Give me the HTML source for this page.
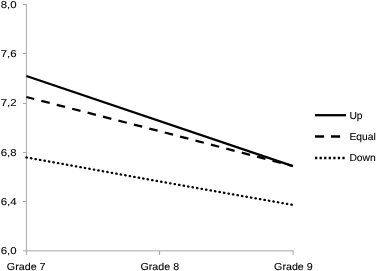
<!DOCTYPE html>
<html><head><meta charset="utf-8"><style>
html,body{margin:0;padding:0;background:#fff;width:378px;height:271px;overflow:hidden}
svg{display:block}
text{text-rendering:geometricPrecision;font-family:"Liberation Sans",sans-serif;fill:#000;stroke:#000;stroke-width:0.1px}
</style></head><body>
<svg width="378" height="271" viewBox="0 0 378 271">
<g stroke="#a8a8a8" stroke-width="1" fill="none">
<path d="M26.4 4V255"/>
<path d="M26 250.85H293.6"/>
<path d="M23 4.5H26M23 53.5H26M23 103.5H26M23 152.5H26M23 201.5H26M23 250.85H26"/>
<path d="M159.6 251V255M293.1 251V255"/>
</g>
<g fill="none" stroke="#000" stroke-width="2.28">
<path d="M26.4 75.97L292.9 166.1"/>
<path d="M26.4 97.0L159.65 131.2L292.9 166.0" stroke-dasharray="8.6 7.32" stroke-dashoffset="0.5"/>
<path d="M26.4 157.4L159.65 181.45L292.9 204.9" stroke-dasharray="0.5 4.06" stroke-dashoffset="-0.05" stroke-linecap="round"/>
<path d="M315 115.2H346"/>
<path d="M315 136.5H346" stroke-dasharray="9.12 6.84"/>
<path d="M315 158.0H346" stroke-dasharray="2.28 2.28"/>
</g>
<text transform="translate(16.6 7.9) scale(1.14 1)" text-anchor="end" font-size="10">8,0</text>
<text transform="translate(16.6 57.1) scale(1.14 1)" text-anchor="end" font-size="10">7,6</text>
<text transform="translate(16.6 106.3) scale(1.14 1)" text-anchor="end" font-size="10">7,2</text>
<text transform="translate(16.6 155.5) scale(1.14 1)" text-anchor="end" font-size="10">6,8</text>
<text transform="translate(16.6 204.7) scale(1.14 1)" text-anchor="end" font-size="10">6,4</text>
<text transform="translate(16.6 253.9) scale(1.14 1)" text-anchor="end" font-size="10">6,0</text>
<text transform="translate(26.2 269.6) scale(1.06 1)" text-anchor="middle" font-size="10.1">Grade 7</text>
<text transform="translate(159.8 269.6) scale(1.06 1)" text-anchor="middle" font-size="10.1">Grade 8</text>
<text transform="translate(293.4 269.6) scale(1.06 1)" text-anchor="middle" font-size="10.1">Grade 9</text>
<text transform="translate(349.4 118.7) scale(1.02 1)" text-anchor="start" font-size="10.1">Up</text>
<text transform="translate(349.4 140.0) scale(1.02 1)" text-anchor="start" font-size="10.1">Equal</text>
<text transform="translate(349.4 161.3) scale(1.02 1)" text-anchor="start" font-size="10.1">Down</text>
</svg>
</body></html>
